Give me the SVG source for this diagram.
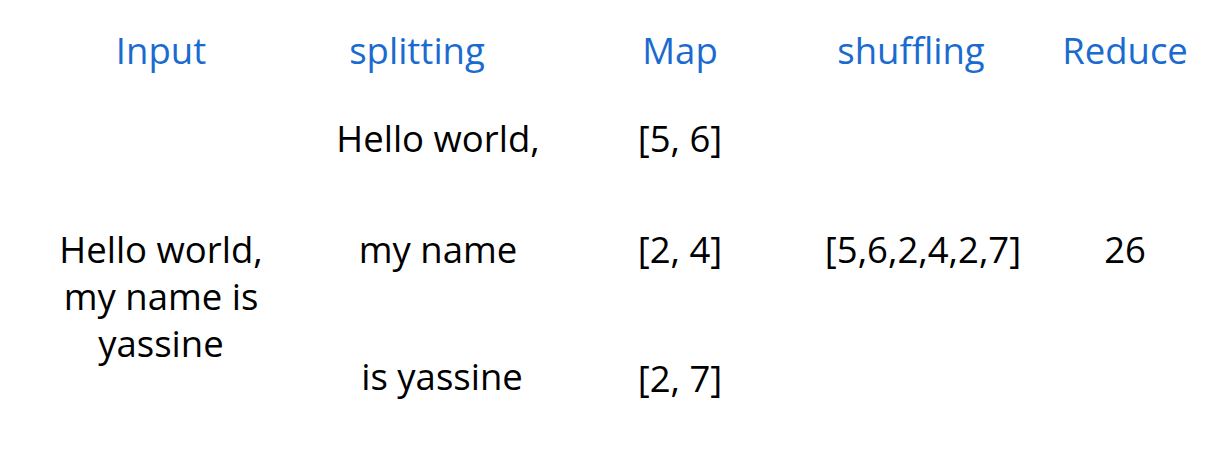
<svg xmlns="http://www.w3.org/2000/svg" width="1228" height="451" viewBox="0 0 1228 451">
<style>
text{font-family:"Open Sans","Noto Sans",sans-serif;font-size:36.5px;text-anchor:middle}
.h{fill:#1a6bcf}
.t{fill:#000}
</style>
<rect width="1228" height="451" fill="#fff"/>
<g id="headers">
<text class="h" x="161" y="64">Input</text>
<text class="h" x="417" y="64">splitting</text>
<text class="h" x="680" y="64">Map</text>
<text class="h" x="911" y="64">shuffling</text>
<text class="h" x="1125" y="64">Reduce</text>
</g>
<g id="input"><text class="t" x="161" y="263">Hello world,</text><text class="t" x="161" y="310">my name is</text><text class="t" x="161" y="357">yassine</text></g>
<g id="split1"><text class="t" x="438" y="152">Hello world,</text></g>
<g id="split2"><text class="t" x="438" y="263">my name</text></g>
<g id="split3"><text class="t" x="442" y="390">is yassine</text></g>
<g id="map1"><text class="t" x="680" y="152">[5, 6]</text></g>
<g id="map2"><text class="t" x="680" y="263">[2, 4]</text></g>
<g id="map3"><text class="t" x="680" y="392">[2, 7]</text></g>
<g id="shuffle"><text class="t" x="923" y="263">[5,6,2,4,2,7]</text></g>
<g id="reduce"><text class="t" x="1125" y="263">26</text></g>
<g id="connectors"></g>
</svg>
